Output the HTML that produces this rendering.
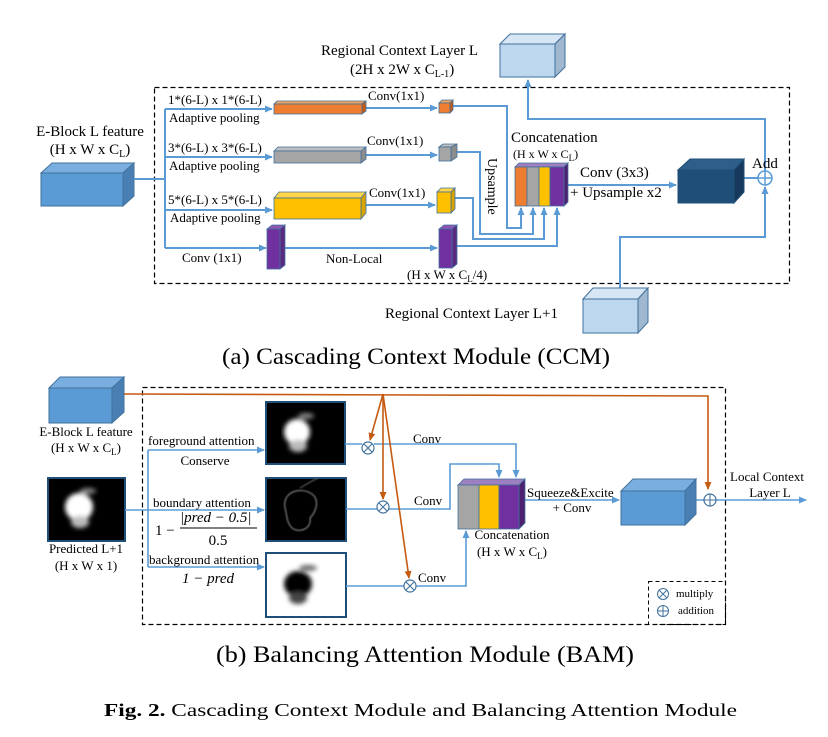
<!DOCTYPE html>
<html><head><meta charset="utf-8"><style>
html,body{margin:0;padding:0;background:#fff;}
svg{display:block;font-family:"Liberation Serif",serif;}
</style></head><body>
<svg width="828" height="737" viewBox="0 0 828 737" xmlns="http://www.w3.org/2000/svg">
<defs>
<marker id="ab" markerWidth="8" markerHeight="8" refX="7" refY="4" orient="auto" markerUnits="userSpaceOnUse"><path d="M0,0.5 L8,4 L0,7.5 z" fill="#5b9bd5"/></marker>
<marker id="ao" markerWidth="8" markerHeight="8" refX="7" refY="4" orient="auto" markerUnits="userSpaceOnUse"><path d="M0,0.5 L8,4 L0,7.5 z" fill="#c55a11"/></marker>
<filter id="bl"><feGaussianBlur stdDeviation="2.5"/></filter>
<filter id="bl2"><feGaussianBlur stdDeviation="0.7"/></filter>
</defs>

<!-- ================= CCM ================= -->
<rect x="154.5" y="87.5" width="635" height="196" fill="none" stroke="#000" stroke-dasharray="5,3" stroke-width="1.2"/>

<polygon points="41,173 52,163 134,163 123,173" fill="#7aaee0" stroke="#41719c"/>
<polygon points="123,173 134,163 134,196 123,206" fill="#4a7fb3" stroke="#41719c"/>
<rect x="41" y="173" width="82" height="33" fill="#5b9bd5" stroke="#41719c"/>
<text x="90" y="136" font-size="15" text-anchor="middle">E-Block L feature</text>
<text x="90" y="154" font-size="15" text-anchor="middle">(H x W x C<tspan font-size="10" dy="3">L</tspan><tspan dy="-3">)</tspan></text>

<g stroke="#5b9bd5" stroke-width="2" fill="none">
<path d="M134,179 H165"/>
<path d="M165,109 V248"/>
<path d="M165,109 H272" marker-end="url(#ab)"/>
<path d="M165,157 H272" marker-end="url(#ab)"/>
<path d="M165,210 H272" marker-end="url(#ab)"/>
<path d="M165,248 H266" marker-end="url(#ab)"/>
<path d="M366,108 H437" marker-end="url(#ab)"/>
<path d="M365,155 H437" marker-end="url(#ab)"/>
<path d="M366,205 H435" marker-end="url(#ab)"/>
<path d="M285,248 H437" marker-end="url(#ab)"/>
<path d="M453,106 H507 V228 H521 V208" marker-end="url(#ab)"/>
<path d="M457,152 H480 V234 H533 V208" marker-end="url(#ab)"/>
<path d="M455,198 H473 V239 H544 V208" marker-end="url(#ab)"/>
<path d="M457,246 H557 V208" marker-end="url(#ab)"/>
<path d="M568,185 H676" marker-end="url(#ab)"/>
<path d="M744,178 H758"/>
<path d="M765,171 V119 H528 V80" marker-end="url(#ab)"/>
<path d="M620,288 V237 H765 V187" marker-end="url(#ab)"/>
</g>

<g font-size="13">
<text x="168" y="104">1*(6-L) x 1*(6-L)</text>
<text x="169" y="122">Adaptive pooling</text>
<text x="168" y="152">3*(6-L) x 3*(6-L)</text>
<text x="169" y="170">Adaptive pooling</text>
<text x="168" y="204">5*(6-L) x 5*(6-L)</text>
<text x="170" y="222">Adaptive pooling</text>
<text x="182" y="262">Conv (1x1)</text>
<text x="326" y="263">Non-Local</text>
<text x="368" y="100">Conv(1x1)</text>
<text x="367" y="145">Conv(1x1)</text>
<text x="369" y="197">Conv(1x1)</text>
<text x="407" y="279">(H x W x C<tspan font-size="9" dy="3">L</tspan><tspan dy="-3">/4)</tspan></text>
</g>

<polygon points="274,104 277,101 366,101 362,104" fill="#f4a460" stroke="#41719c" stroke-width="0.8"/>
<polygon points="362,104 366,101 366,111 362,114" fill="#c55a11" stroke="#41719c" stroke-width="0.8"/>
<rect x="274" y="104" width="88" height="10" fill="#ed7d31" stroke="#41719c" stroke-width="0.8"/>
<polygon points="274,151 278,147 366,147 361,151" fill="#bfbfbf" stroke="#41719c" stroke-width="0.8"/>
<polygon points="361,151 366,147 366,159 361,163" fill="#8c8c8c" stroke="#41719c" stroke-width="0.8"/>
<rect x="274" y="151" width="87" height="12" fill="#a5a5a5" stroke="#41719c" stroke-width="0.8"/>
<polygon points="274,198 279,192 366,192 361,198" fill="#ffd54a" stroke="#41719c" stroke-width="0.8"/>
<polygon points="361,198 366,192 366,213 361,219" fill="#d9a300" stroke="#41719c" stroke-width="0.8"/>
<rect x="274" y="198" width="87" height="21" fill="#ffc000" stroke="#41719c" stroke-width="0.8"/>
<polygon points="267,229 272,225 285,225 280,229" fill="#8e55b5" stroke="#41719c" stroke-width="0.8"/>
<polygon points="280,229 285,225 285,265 280,269" fill="#5a2a80" stroke="#41719c" stroke-width="0.8"/>
<rect x="267" y="229" width="13" height="40" fill="#7030a0" stroke="#41719c" stroke-width="0.8"/>

<polygon points="439,103 442,100 453,100 450,103" fill="#f4a460" stroke="#41719c" stroke-width="0.8"/>
<polygon points="450,103 453,100 453,110 450,113" fill="#c55a11" stroke="#41719c" stroke-width="0.8"/>
<rect x="439" y="103" width="11" height="10" fill="#ed7d31" stroke="#41719c" stroke-width="0.8"/>
<polygon points="439,147 443,144 457,144 451,147" fill="#bfbfbf" stroke="#41719c" stroke-width="0.8"/>
<polygon points="451,147 457,144 457,157 451,161" fill="#8c8c8c" stroke="#41719c" stroke-width="0.8"/>
<rect x="439" y="147" width="12" height="14" fill="#a5a5a5" stroke="#41719c" stroke-width="0.8"/>
<polygon points="437,192 441,188 455,188 451,192" fill="#ffd54a" stroke="#41719c" stroke-width="0.8"/>
<polygon points="451,192 455,188 455,209 451,213" fill="#d9a300" stroke="#41719c" stroke-width="0.8"/>
<rect x="437" y="192" width="14" height="21" fill="#ffc000" stroke="#41719c" stroke-width="0.8"/>
<polygon points="439,229 444,225 457,225 452,229" fill="#8e55b5" stroke="#41719c" stroke-width="0.8"/>
<polygon points="452,229 457,225 457,264 452,268" fill="#5a2a80" stroke="#41719c" stroke-width="0.8"/>
<rect x="439" y="229" width="13" height="39" fill="#7030a0" stroke="#41719c" stroke-width="0.8"/>

<text x="0" y="0" font-size="14" transform="translate(488,158) rotate(90)">Upsample</text>

<text x="511" y="142" font-size="15">Concatenation</text>
<text x="513" y="158" font-size="12">(H x W x C<tspan font-size="9" dy="3">L</tspan><tspan dy="-3">)</tspan></text>
<polygon points="515,167 519,163 568,163 564,167" fill="#9e7fc0" stroke="#41719c" stroke-width="0.8"/>
<polygon points="564,167 568,163 568,202 564,206" fill="#4d2070" stroke="#41719c" stroke-width="0.8"/>
<rect x="515" y="167" width="12" height="39" fill="#ed7d31" stroke="#41719c" stroke-width="0.8"/>
<rect x="527" y="167" width="12" height="39" fill="#a5a5a5" stroke="#41719c" stroke-width="0.8"/>
<rect x="539" y="167" width="11" height="39" fill="#ffc000" stroke="#41719c" stroke-width="0.8"/>
<rect x="550" y="167" width="14" height="39" fill="#7030a0" stroke="#41719c" stroke-width="0.8"/>
<text x="580" y="177" font-size="15">Conv (3x3)</text>
<text x="570" y="197" font-size="15">+ Upsample x2</text>

<polygon points="678,170 690,159 744,159 734,170" fill="#2e5f8a" stroke="#1f4e79"/>
<polygon points="734,170 744,159 744,192 734,203" fill="#173a5c" stroke="#1f4e79"/>
<rect x="678" y="170" width="56" height="33" fill="#1f4e79" stroke="#1f4e79"/>
<text x="752" y="168" font-size="15">Add</text>
<circle cx="765" cy="178" r="7" fill="#fff" stroke="#5b9bd5" stroke-width="1.5"/>
<path d="M758,178 H772 M765,171 V185" stroke="#5b9bd5" stroke-width="1.5"/>

<polygon points="500,44 510,34 565,34 555,44" fill="#d6e6f5" stroke="#41719c"/>
<polygon points="555,44 565,34 565,67 555,77" fill="#9fb7cf" stroke="#41719c"/>
<rect x="500" y="44" width="55" height="33" fill="#bdd7ee" stroke="#41719c"/>
<text x="321" y="55" font-size="15">Regional Context Layer L</text>
<text x="350" y="74" font-size="15">(2H x 2W x C<tspan font-size="10" dy="3">L-1</tspan><tspan dy="-3">)</tspan></text>

<polygon points="583,299 593,288 648,288 638,299" fill="#d6e6f5" stroke="#41719c"/>
<polygon points="638,299 648,288 648,322 638,333" fill="#9fb7cf" stroke="#41719c"/>
<rect x="583" y="299" width="55" height="34" fill="#bdd7ee" stroke="#41719c"/>
<text x="385" y="318" font-size="15">Regional Context Layer L+1</text>

<text x="416" y="364" font-size="23" text-anchor="middle" textLength="388" lengthAdjust="spacingAndGlyphs">(a) Cascading Context Module (CCM)</text>

<!-- ================= BAM ================= -->
<rect x="142.5" y="387.5" width="583" height="237" fill="none" stroke="#000" stroke-dasharray="5,3" stroke-width="1.2"/>

<polygon points="49,388 60,377 124,377 112,388" fill="#7aaee0" stroke="#41719c"/>
<polygon points="112,388 124,377 124,412 112,423" fill="#4a7fb3" stroke="#41719c"/>
<rect x="49" y="388" width="63" height="35" fill="#5b9bd5" stroke="#41719c"/>
<text x="86" y="436" font-size="13" text-anchor="middle">E-Block L feature</text>
<text x="86" y="452" font-size="13" text-anchor="middle">(H x W x C<tspan font-size="9" dy="3">L</tspan><tspan dy="-3">)</tspan></text>

<rect x="48" y="478" width="77" height="63" fill="#000" stroke="#1f4e79" stroke-width="2"/>
<g filter="url(#bl)"><ellipse cx="79" cy="507" rx="14" ry="14" fill="#fff"/><ellipse cx="80" cy="522" rx="9" ry="6" fill="#bbb"/><ellipse cx="88" cy="491" rx="8" ry="3" fill="#888"/></g>
<text x="86" y="553" font-size="13" text-anchor="middle">Predicted L+1</text>
<text x="86" y="570" font-size="13" text-anchor="middle">(H x W x 1)</text>

<rect x="266" y="402" width="79" height="62" fill="#000" stroke="#1f4e79" stroke-width="2"/>
<g filter="url(#bl)"><ellipse cx="297" cy="432" rx="13" ry="13" fill="#fff"/><ellipse cx="298" cy="446" rx="9" ry="6" fill="#bbb"/><ellipse cx="306" cy="416" rx="8" ry="3" fill="#888"/></g>

<rect x="266" y="478" width="80" height="63" fill="#000" stroke="#1f4e79" stroke-width="2"/>
<g filter="url(#bl2)" fill="none" stroke="#999" stroke-width="1"><path d="M285,508 C282,492 300,486 312,494 C320,500 316,512 310,518 C312,528 300,534 292,528 C286,522 287,514 285,508 Z"/><path d="M300,488 Q310,482 318,478" stroke="#666"/></g>

<rect x="266" y="553" width="80" height="64" fill="#fff" stroke="#1f4e79" stroke-width="2"/>
<g filter="url(#bl)"><ellipse cx="298" cy="584" rx="14" ry="13" fill="#000"/><ellipse cx="298" cy="598" rx="9" ry="6" fill="#444"/><ellipse cx="308" cy="568" rx="9" ry="3" fill="#666"/></g>

<g stroke="#5b9bd5" stroke-width="1.6" fill="none">
<path d="M125,510 H264" marker-end="url(#ab)"/>
<path d="M148,450 V567"/>
<path d="M148,450 H264" marker-end="url(#ab)"/>
<path d="M148,567 H264" marker-end="url(#ab)"/>
<path d="M345,444 H362 M374,444 H516 V477" marker-end="url(#ab)"/>
<path d="M346,509 H377 M389,509 H450 V464 H499 V477" marker-end="url(#ab)"/>
<path d="M346,586 H404 M416,586 H466 V531" marker-end="url(#ab)"/>
<path d="M525,500 H619" marker-end="url(#ab)"/>
<path d="M696,500 H704 M716,500 H806" marker-end="url(#ab)"/>
</g>

<g stroke="#c55a11" stroke-width="1.6" fill="none">
<path d="M124,394 L708,396 V489" marker-end="url(#ao)"/>
<path d="M383,394 L370,440" marker-end="url(#ao)"/>
<path d="M383,394 L383,499" marker-end="url(#ao)"/>
<path d="M383,394 L409,578" marker-end="url(#ao)"/>
</g>

<g stroke="#41719c" stroke-width="1.2" fill="#fff">
<circle cx="368" cy="448" r="6"/><circle cx="383" cy="507" r="6"/><circle cx="410" cy="586" r="6"/>
<circle cx="710" cy="500" r="6"/>
</g>
<g stroke="#41719c" stroke-width="1.1">
<path d="M364,444 L372,452 M372,444 L364,452"/>
<path d="M379,503 L387,511 M387,503 L379,511"/>
<path d="M406,582 L414,590 M414,582 L406,590"/>
<path d="M704,500 H716 M710,494 V506"/>
</g>

<g font-size="13">
<text x="148" y="445">foreground attention</text>
<text x="205" y="465" text-anchor="middle">Conserve</text>
<text x="153" y="507">boundary attention</text>
<text x="155" y="535" font-size="15">1 −</text>
<text x="180" y="522" font-size="15" font-style="italic">|pred − 0.5|</text>
<text x="218" y="545" font-size="15" text-anchor="middle">0.5</text>
<text x="149" y="564">background attention</text>
<text x="208" y="583" font-size="15" text-anchor="middle" font-style="italic">1 − pred</text>
<text x="413" y="443">Conv</text>
<text x="414" y="505">Conv</text>
<text x="418" y="582">Conv</text>
<text x="527" y="497">Squeeze&amp;Excite</text>
<text x="572" y="512" text-anchor="middle">+ Conv</text>
<text x="512" y="539" text-anchor="middle">Concatenation</text>
<text x="512" y="556" text-anchor="middle">(H x W x C<tspan font-size="9" dy="3">L</tspan><tspan dy="-3">)</tspan></text>
<text x="730" y="481">Local Context</text>
<text x="770" y="497" text-anchor="middle">Layer L</text>
</g>
<path d="M180,528 H257" stroke="#000" stroke-width="1"/>

<polygon points="458,485 464,479 525,479 519,485" fill="#9e7fc0" stroke="#41719c" stroke-width="0.8"/>
<polygon points="519,485 525,479 525,523 519,529" fill="#4d2070" stroke="#41719c" stroke-width="0.8"/>
<rect x="458" y="485" width="21" height="44" fill="#a5a5a5" stroke="#41719c" stroke-width="0.8"/>
<rect x="479" y="485" width="20" height="44" fill="#ffc000" stroke="#41719c" stroke-width="0.8"/>
<rect x="499" y="485" width="20" height="44" fill="#7030a0" stroke="#41719c" stroke-width="0.8"/>

<polygon points="621,491 633,479 696,479 685,491" fill="#7aaee0" stroke="#41719c"/>
<polygon points="685,491 696,479 696,514 685,525" fill="#4a7fb3" stroke="#41719c"/>
<rect x="621" y="491" width="64" height="34" fill="#5b9bd5" stroke="#41719c"/>

<rect x="648.5" y="581.5" width="77" height="43" fill="none" stroke="#000" stroke-dasharray="4,3"/>
<g stroke="#41719c" stroke-width="1" fill="none">
<circle cx="663" cy="594" r="5.5"/><path d="M659,590 L667,598 M667,590 L659,598"/>
<circle cx="663" cy="611" r="5.5"/><path d="M657.5,611 H668.5 M663,605.5 V616.5"/>
</g>
<text x="676" y="597" font-size="11">multiply</text>
<text x="678" y="614" font-size="11">addition</text>

<text x="425" y="662" font-size="23" text-anchor="middle" textLength="418" lengthAdjust="spacingAndGlyphs">(b) Balancing Attention Module (BAM)</text>
<text x="104" y="716" font-size="18" textLength="633" lengthAdjust="spacingAndGlyphs"><tspan font-weight="bold">Fig. 2.</tspan> Cascading Context Module and Balancing Attention Module</text>
</svg>
</body></html>
